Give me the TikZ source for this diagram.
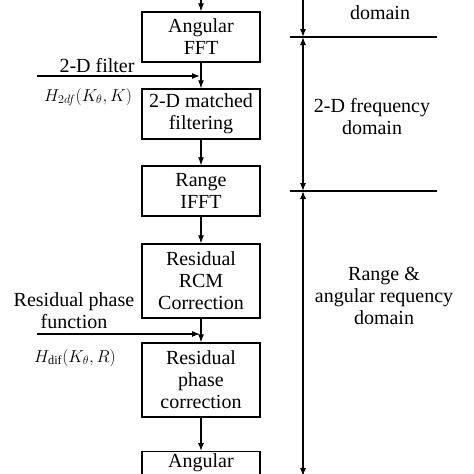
\documentclass[tikz,border=0pt]{standalone}
\usepackage{fontspec}
\setmainfont{Liberation Serif}
\usetikzlibrary{arrows.meta}
\begin{document}
\begin{tikzpicture}[x=1pt,y=-1pt,
  blk/.style={draw,line width=1.4pt,minimum width=118pt,align=center,inner sep=0pt,font=\fontsize{20}{22}\selectfont},
  lbl/.style={align=center,inner sep=0pt,font=\fontsize{20}{22}\selectfont},
  mlbl/.style={inner sep=0pt,font=\fontsize{17.5}{20}\selectfont},
  arr/.style={line width=1.1pt,-{Latex[length=8pt,width=6pt]}},
  dim/.style={line width=1.1pt,{Latex[length=8pt,width=6pt]}-{Latex[length=8pt,width=6pt]}},
  thin/.style={line width=1.1pt}]
\useasboundingbox (0,0) rectangle (474,474);
\clip (0,0) rectangle (474,474);
% blocks
\node[blk,minimum height=50pt] (b1) at (201,37) {Angular\\FFT};
\node[blk,minimum height=50pt] (b2) at (201,114) {2-D matched\\filtering};
\node[blk,minimum height=50pt] (b3) at (201,191) {Range\\IFFT};
\node[blk,minimum height=74pt] (b4) at (201,281) {Residual\\RCM\\Correction};
\node[blk,minimum height=74pt] (b5) at (201,380) {Residual\\phase\\correction};
\node[blk,minimum height=60pt,anchor=north] (b6) at (201,451) {};
\node[lbl] (b6t) at (201,463) {Angular};
% flow arrows
\coordinate (top) at (201,-5);
\draw[arr] (top) -- (b1.north);
\draw[arr] (b1.south) -- (b2.north);
\draw[arr] (b2.south) -- (b3.north);
\draw[arr] (b3.south) -- (b4.north);
\draw[arr] (b4.south) -- (b5.north);
\draw[arr] (b5.south) -- (b6.north);
% side inputs
\coordinate (f0) at (37,76);
\coordinate (f1) at (200,76);
\draw[arr] (f0) -- (f1);
\node[lbl] (flt) at (97,66) {2-D filter};
\node[mlbl] (hf) at (88,97) {$H_{2df}(K_\theta,K)$};
\coordinate (p0) at (37,334);
\coordinate (p1) at (200,334);
\draw[arr] (p0) -- (p1);
\node[lbl] (rpf) at (74,311) {Residual phase\\function};
\node[mlbl] (hd) at (75,358) {$H_{\mathrm{dif}}(K_\theta,R)$};
% domain dimension lines
\coordinate (v0) at (303,-5);
\coordinate (v1) at (303,37);
\coordinate (v2) at (303,191);
\coordinate (v3) at (303,476);
\coordinate (h1a) at (290,37);
\coordinate (h1b) at (437,37);
\coordinate (h2a) at (290,191);
\coordinate (h2b) at (437,191);
\draw[thin] (h1a) -- (h1b);
\draw[thin] (h2a) -- (h2b);
\draw[arr] (v0) -- (v1);
\draw[dim] (v1) -- (v2);
\draw[dim] (v2) -- (v3);
\node[lbl] (d0) at (380,13) {domain};
\node[lbl] (d1) at (372,117) {2-D frequency\\domain};
\node[lbl] (d2) at (384,296) {Range \&\\angular requency\\domain};
\end{tikzpicture}
\end{document}
